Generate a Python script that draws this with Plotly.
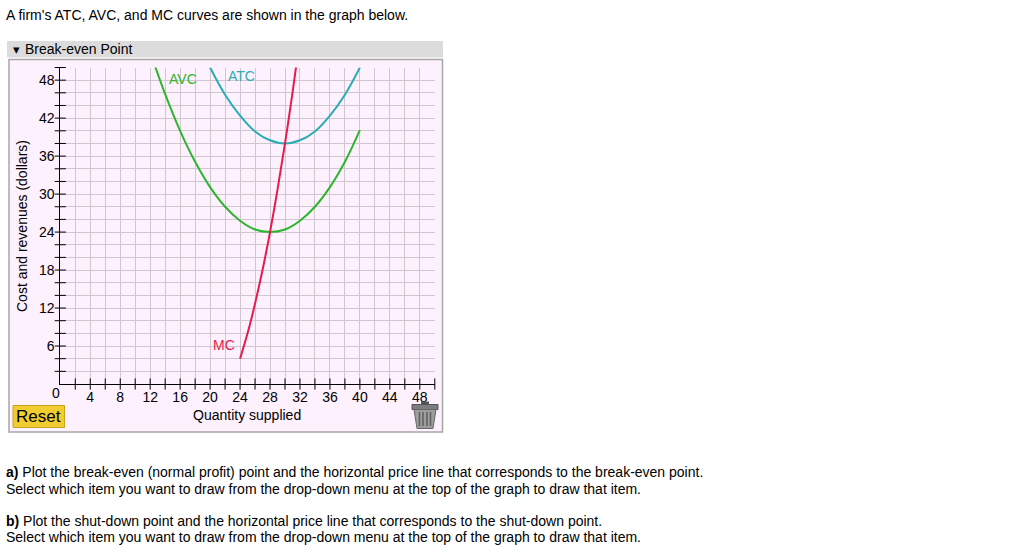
import plotly.graph_objects as go

# figure size in px, used to turn pixel positions into paper coords
W, H = 1024, 558


def px(x):
    return x / W


def py(y):
    return 1 - y / H


# ---- data ----
qty_avc = [12, 14, 16, 18, 20, 22, 24, 26, 28, 30, 32, 34, 36, 38, 40]
avc = [52.4, 45.8, 40.0, 35.1, 31.1, 28.0, 25.8, 24.4, 24.0, 24.4, 25.8, 28.0, 31.1, 35.1, 40.1]

qty_atc = [20, 22, 24, 26, 28, 30, 32, 34, 36, 38, 40]
atc = [50.0, 45.7, 42.4, 39.9, 38.5, 38.0, 38.5, 39.9, 42.4, 45.7, 50.0]

qty_mc = [24, 25, 26, 27, 28, 29, 30, 31, 31.5]
mc = [4.0, 8.0, 12.7, 18.0, 24.0, 30.7, 38.0, 46.0, 50.3]

grid_vals = list(range(2, 52, 2))
x_labels = ["4", "8", "12", "16", "20", "24", "28", "32", "36", "40", "44", "48"]
y_labels = ["6", "12", "18", "24", "30", "36", "42", "48"]

AVC_COL = "#2db52d"
ATC_COL = "#2aadb2"
MC_COL = "#e8194b"
FONT = "Liberation Sans, Arial, sans-serif"
NARROW = "Liberation Sans Narrow, Liberation Sans, Arial, sans-serif"

fig = go.Figure()

fig.add_trace(go.Scatter(x=qty_avc, y=avc, mode="lines", line=dict(color=AVC_COL, width=2, shape="spline")))
fig.add_trace(go.Scatter(x=qty_atc, y=atc, mode="lines", line=dict(color=ATC_COL, width=2, shape="spline")))
fig.add_trace(go.Scatter(x=qty_mc, y=mc, mode="lines", line=dict(color=MC_COL, width=2, shape="spline")))

# cross-shaped ticks on both axes
fig.add_trace(go.Scatter(
    x=[0] * len(grid_vals), y=grid_vals, mode="markers", cliponaxis=False,
    marker=dict(symbol="line-ew", size=8, line=dict(color="black", width=1))))
fig.add_trace(go.Scatter(
    x=grid_vals, y=[0] * len(grid_vals), mode="markers", cliponaxis=False,
    marker=dict(symbol="line-ns", size=8, line=dict(color="black", width=1))))


def tick_text(vals, labels):
    return [str(v) if str(v) in labels else "" for v in vals]


axis_common = dict(
    range=[0, 50], showgrid=True, gridcolor="#cfc6cf", gridwidth=1,
    showline=True, linecolor="black", linewidth=1, ticks="", zeroline=False,
    tickfont=dict(family=FONT, size=14, color="black"), fixedrange=True,
    tickmode="array", tickvals=grid_vals)

fig.update_xaxes(**axis_common, domain=[px(60.3), px(434.8)],
                 ticktext=tick_text(grid_vals, x_labels), ticklabelstandoff=0)
fig.update_yaxes(**axis_common, domain=[py(384), py(67.5)],
                 ticktext=tick_text(grid_vals, y_labels), ticklabelstandoff=2)

shapes = [
    # graph panel
    dict(type="rect", xref="paper", yref="paper", x0=px(9), x1=px(442.5), y0=py(432), y1=py(59.5),
         fillcolor="#fdf1fd", line=dict(color="#a6a6a6", width=1.5), layer="below"),
    # drop-down header bar
    dict(type="rect", xref="paper", yref="paper", x0=px(7), x1=px(443), y0=py(57.5), y1=py(41),
         fillcolor="#dcdcdc", line=dict(width=0), layer="below"),
    # Reset button
    dict(type="rect", xref="paper", yref="paper", x0=px(13), x1=px(64.5), y0=py(427.5), y1=py(405.5),
         fillcolor="#f1cd2f", line=dict(color="#c9a51e", width=1)),
    # trash can: handle, lid, body
    dict(type="rect", xref="paper", yref="paper", x0=px(421), x1=px(429), y0=py(404.5), y1=py(401.5),
         fillcolor="#555555", line=dict(width=0)),
    dict(type="rect", xref="paper", yref="paper", x0=px(412), x1=px(438), y0=py(409.5), y1=py(404.5),
         fillcolor="#7d7d7d", line=dict(color="#555555", width=1)),
    dict(type="path", xref="paper", yref="paper",
         path=f"M {px(414)} {py(409.5)} L {px(436)} {py(409.5)} L {px(433)} {py(428.5)} L {px(417)} {py(428.5)} Z",
         fillcolor="#9d9d9d", line=dict(color="#666666", width=1)),
]
for rx in [419.5, 423, 427, 430.5]:
    shapes.append(dict(type="line", xref="paper", yref="paper", x0=px(rx), x1=px(rx),
                       y0=py(412), y1=py(426), line=dict(color="#5e5e5e", width=1.5)))

annotations = [
    dict(text="A firm's ATC, AVC, and MC curves are shown in the graph below.",
         x=px(4), y=py(15), xanchor="left", yanchor="middle",
         font=dict(family=NARROW, size=14, color="black")),
    dict(text="▾", x=px(11), y=py(49.5), xanchor="left", yanchor="middle",
         font=dict(family="DejaVu Sans", size=13, color="black")),
    dict(text="Break-even Point", x=px(23), y=py(49), xanchor="left", yanchor="middle",
         font=dict(family=FONT, size=14, color="black")),
    dict(text="AVC", x=16.4, y=48.2, font=dict(family=FONT, size=14, color=AVC_COL), showarrow=False),
    dict(text="ATC", x=24.2, y=48.6, font=dict(family=FONT, size=14, color=ATC_COL), showarrow=False),
    dict(text="MC", x=21.8, y=6.1, font=dict(family=FONT, size=14, color=MC_COL), showarrow=False),
    dict(text="0", x=px(56), y=py(393), xanchor="center", yanchor="middle",
         font=dict(family=FONT, size=14, color="black")),
    dict(text="Quantity supplied", x=px(246.5), y=py(414.5), xanchor="center", yanchor="middle",
         font=dict(family=FONT, size=14, color="black")),
    dict(text="Cost and revenues (dollars)", x=px(22), y=py(226), xanchor="center", yanchor="middle",
         textangle=-90, font=dict(family=FONT, size=14, color="black")),
    dict(text="Reset", x=px(38.75), y=py(416.5), xanchor="center", yanchor="middle",
         font=dict(family=FONT, size=17, color="black")),
    dict(text="<b>a)</b> Plot the break-even (normal profit) point and the horizontal price line that corresponds to the break-even point.",
         x=px(4), y=py(472), xanchor="left", yanchor="middle",
         font=dict(family=NARROW, size=14, color="black")),
    dict(text="Select which item you want to draw from the drop-down menu at the top of the graph to draw that item.",
         x=px(4), y=py(489), xanchor="left", yanchor="middle",
         font=dict(family=NARROW, size=14, color="black")),
    dict(text="<b>b)</b> Plot the shut-down point and the horizontal price line that corresponds to the shut-down point.",
         x=px(4), y=py(520.5), xanchor="left", yanchor="middle",
         font=dict(family=NARROW, size=14, color="black")),
    dict(text="Select which item you want to draw from the drop-down menu at the top of the graph to draw that item.",
         x=px(4), y=py(537), xanchor="left", yanchor="middle",
         font=dict(family=NARROW, size=14, color="black")),
]
for a in annotations:
    a.setdefault("showarrow", False)
    if "xanchor" in a:
        a["xref"] = "paper"
        a["yref"] = "paper"

fig.update_layout(
    width=W, height=H,
    margin=dict(l=0, r=0, t=0, b=0),
    paper_bgcolor="white",
    plot_bgcolor="rgba(0,0,0,0)",
    showlegend=False,
    shapes=shapes,
    annotations=annotations,
    hovermode=False,
)

# the page's default 8px body margin would shift the whole figure
fig.write_html("out.html", config={"displayModeBar": False},
               post_script="document.body.style.margin='0';")
